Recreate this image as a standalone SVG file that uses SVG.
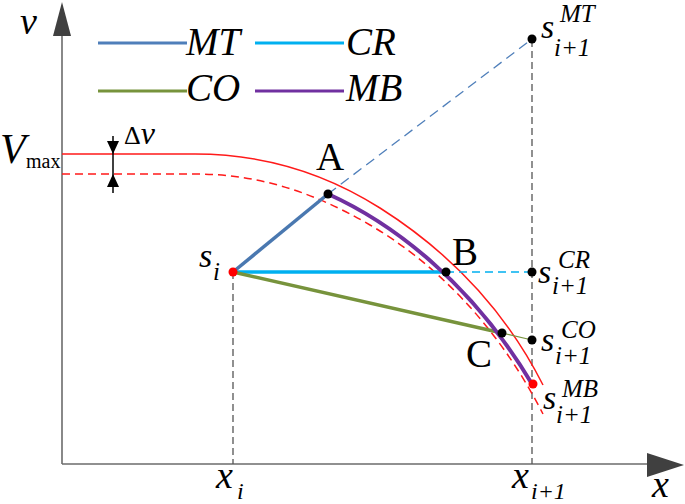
<svg xmlns="http://www.w3.org/2000/svg" width="685" height="504" viewBox="0 0 685 504">
<style>
.t{font-family:"Liberation Serif","Times New Roman",serif;fill:#000}
.it{font-style:italic}
.ax{stroke:#6b6b6b;stroke-width:1.6;fill:none}
.ah{fill:#404040}
.guide{stroke:#555;stroke-width:1.3;stroke-dasharray:7 4;fill:none}
.red{stroke:#ff1a1a;stroke-width:1.5;fill:none}
.redd{stroke:#ff1a1a;stroke-width:1.5;fill:none;stroke-dasharray:8 5}
.dot{fill:#000}
.rdot{fill:#ff0000}
</style>
<rect width="685" height="504" fill="#fff"/>

<g id="axes">
<line class="ax" x1="62" y1="464" x2="62" y2="30"/>
<polygon class="ah" points="62,2 53,36 71,36"/>
<line class="ax" x1="62" y1="464" x2="650" y2="464"/>
<polygon class="ah" points="684,465 647,453 647,477"/>
<text class="t it" x="20" y="34" font-size="38">v</text>
<text class="t it" x="652" y="497" font-size="38">x</text>
</g>

<g id="guides">
<line class="guide" x1="532" y1="40" x2="532" y2="464"/>
<line class="guide" x1="233" y1="272" x2="233" y2="464"/>
</g>

<g id="limit-curves">
<path class="red" d="M62,154 H195 C260,154 320,170 380,208 C440,246 500,300 543,385"/>
<path class="redd" d="M62,174 H195 C255,174 310,190 370,225 C430,260 495,320 543,414"/>
</g>

<g id="delta-v">
<line x1="113" y1="136" x2="113" y2="193" stroke="#000" stroke-width="1.5"/>
<polygon points="113,154 107,141 119,141" fill="#000"/>
<polygon points="113,174 107,187 119,187" fill="#000"/>
<text class="t" x="124" y="144" font-size="26">Δ<tspan class="it" font-size="32">v</tspan></text>
</g>

<g id="vmax">
<text class="t it" x="0" y="163" font-size="42">V</text>
<text class="t" x="26" y="168" font-size="20">max</text>
</g>

<g id="legend">
<line x1="98" y1="43" x2="187" y2="43" stroke="#4f7fba" stroke-width="3"/>
<text class="t it" x="186" y="55" font-size="39">MT</text>
<line x1="255" y1="43" x2="344" y2="43" stroke="#00b0f0" stroke-width="3"/>
<text class="t it" x="346" y="55" font-size="39">CR</text>
<line x1="98" y1="91" x2="187" y2="91" stroke="#77933c" stroke-width="3"/>
<text class="t it" x="186" y="101" font-size="39">CO</text>
<line x1="255" y1="91" x2="344" y2="91" stroke="#7030a0" stroke-width="3"/>
<text class="t it" x="346" y="101" font-size="39">MB</text>
</g>

<g id="connectors">
<line x1="328" y1="194" x2="532" y2="39" stroke="#4f7fba" stroke-width="1.3" stroke-dasharray="10 6"/>
<line x1="446" y1="272" x2="532" y2="272" stroke="#00b0f0" stroke-width="1.5" stroke-dasharray="8 5"/>
<line x1="502" y1="333" x2="532" y2="340" stroke="#77933c" stroke-width="1.2"/>
<line x1="233" y1="272" x2="328" y2="194" stroke="#4a78b0" stroke-width="3.5"/>
<line x1="233" y1="272" x2="446" y2="272" stroke="#00b0f0" stroke-width="3.5"/>
<line x1="233" y1="272" x2="502" y2="333" stroke="#77933c" stroke-width="3.5"/>
<path d="M328,194 C390,222 470,280 532,384" stroke="#7030a0" stroke-width="4" fill="none"/>
</g>

<g id="point-si">
<circle class="rdot" cx="233" cy="272" r="4.5"/>
<text class="t it" x="199" y="267" font-size="34">s</text>
<text class="t it" x="213" y="280" font-size="25">i</text>
</g>

<g id="point-A">
<circle class="dot" cx="328" cy="194" r="4.5"/>
<text class="t" x="316" y="170" font-size="39">A</text>
</g>
<g id="point-B">
<circle class="dot" cx="446" cy="272" r="4.5"/>
<text class="t" x="452" y="265" font-size="39">B</text>
</g>
<g id="point-C">
<circle class="dot" cx="502" cy="333" r="4.5"/>
<text class="t" x="466" y="367" font-size="39">C</text>
</g>

<g id="point-sMT">
<circle class="dot" cx="532" cy="39" r="4.5"/>
<text class="t it" x="541" y="38" font-size="34">s</text>
<text class="t it" x="560" y="22" font-size="25">MT</text>
<text class="t it" x="554" y="56" font-size="25">i+1</text>
</g>
<g id="point-sCR">
<circle class="dot" cx="532" cy="272" r="4.5"/>
<text class="t it" x="538" y="283" font-size="34">s</text>
<text class="t it" x="558" y="268" font-size="25">CR</text>
<text class="t it" x="552" y="294" font-size="25">i+1</text>
</g>
<g id="point-sCO">
<circle class="dot" cx="532" cy="340" r="4.5"/>
<text class="t it" x="541" y="351" font-size="34">s</text>
<text class="t it" x="561" y="338" font-size="25">CO</text>
<text class="t it" x="555" y="364" font-size="25">i+1</text>
</g>
<g id="point-sMB">
<circle class="rdot" cx="533" cy="384" r="4.5"/>
<text class="t it" x="543" y="409" font-size="34">s</text>
<text class="t it" x="562" y="397" font-size="25">MB</text>
<text class="t it" x="556" y="423" font-size="25">i+1</text>
</g>

<g id="x-labels">
<text class="t it" x="216" y="488" font-size="38">x</text>
<text class="t it" x="237" y="499" font-size="24">i</text>
<text class="t it" x="512" y="488" font-size="38">x</text>
<text class="t it" x="531" y="499" font-size="24">i+1</text>
</g>
</svg>
